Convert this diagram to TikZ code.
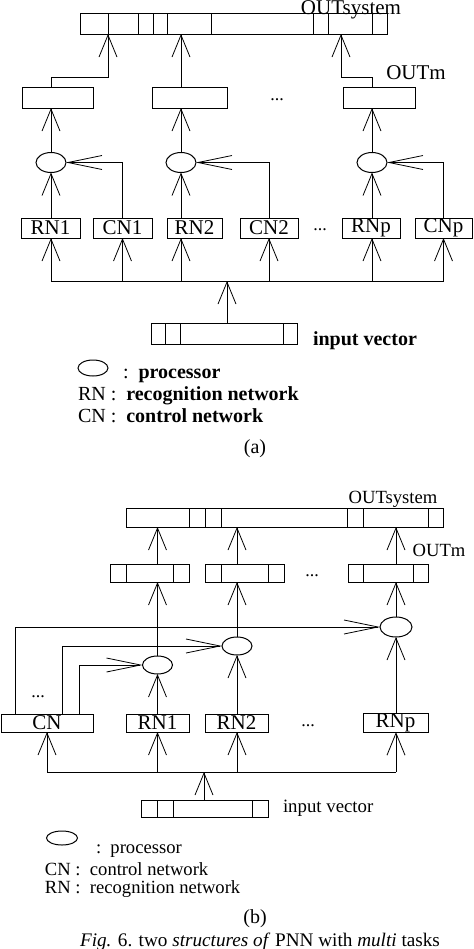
\documentclass[tikz,border=0pt]{standalone}
\usepackage{fontspec}
\setmainfont{Liberation Serif}
\usetikzlibrary{arrows.meta,shapes.geometric}
\newcommand{\myfs}[1]{\fontsize{#1}{#1}\selectfont}
\newcommand{\pbox}[7][]{\node[boxst,#1,minimum width={(#5-#3)*0.5pt},minimum height={(#6-#4)*0.5pt}] (#2) at ({(#3+#5)/2},{(#4+#6)/2}) {#7};}
\begin{document}
\begin{tikzpicture}[x=0.5pt,y=-0.5pt,
  line width=0.5pt,
  boxst/.style={draw,rectangle,inner sep=0pt,outer sep=0pt,font=\myfs{10.5}},
  proc/.style={draw,ellipse,inner sep=0pt,outer sep=0pt},
  arr/.style={-{Straight Barb[length=11pt,width=9pt,line width=0.4pt]}},
  sarr/.style={-{Straight Barb[length=17pt,width=7pt,line width=0.4pt]}},
  lbl/.style={inner sep=0pt,outer sep=0pt},
  dots/.style={inner sep=0pt,font=\myfs{9}},
]
\useasboundingbox (0,0) rectangle (474,949);

% ================= (a) =================
\pbox{barA}{80}{13}{387}{34}{}
\foreach \x in {108,138,153,167,211,313,328,372} \draw (\x,13) -- (\x,34);
\node[lbl,anchor=base,font=\myfs{10.5}] (tA) at (351,14) {OUTsystem};

\pbox{oA1}{22}{87}{93}{108}{}
\pbox{oA2}{152}{87}{227}{108}{}
\pbox{oA3}{343}{87}{415}{108}{}
\node[dots] (dA1) at (277,100) {...};
\node[lbl,anchor=base,font=\myfs{10.5}] (mA) at (416,79) {OUTm};

\node[proc,minimum width=15pt,minimum height=10pt] (eA1) at (51,162.5) {};
\node[proc,minimum width=15pt,minimum height=10pt] (eA2) at (181,162.5) {};
\node[proc,minimum width=15pt,minimum height=10pt] (eA3) at (372,162.5) {};

\coordinate (jA1) at (108,77);
\coordinate (jA3) at (341,77);
\draw[arr] (oA1.north -| eA1) |- (jA1) -- (barA.south -| jA1);
\draw[arr] (oA2.north -| eA2) -- (barA.south -| eA2);
\draw[arr] (oA3.north -| eA3) |- (jA3) -- (barA.south -| jA3);
\foreach \i in {1,2,3} \draw[arr] (eA\i.north) -- (oA\i.south -| eA\i);

\pbox{rnA1}{21}{218}{80}{238}{RN1}
\pbox{cnA1}{93}{218}{152}{238}{CN1}
\pbox{rnA2}{167}{218}{222}{238}{RN2}
\pbox{cnA2}{240}{218}{298}{238}{CN2}
\pbox{rnAp}{342}{218}{400}{238}{RNp}
\pbox{cnAp}{415}{218}{472}{238}{CNp}
\node[dots] (dA2) at (320,230) {...};

\draw[arr] (rnA1.north -| eA1) -- (eA1.south);
\draw[arr] (rnA2.north -| eA2) -- (eA2.south);
\draw[arr] (rnAp.north -| eA3) -- (eA3.south);
\draw[sarr] (cnA1.north) |- (eA1.east);
\draw[sarr] (cnA2.north) |- (eA2.east);
\draw[sarr] (cnAp.north) |- (eA3.east);

\coordinate (busA) at (227,281);
\draw (busA -| eA1) -- (busA -| cnAp);
\draw[arr] (busA -| eA1) -- (rnA1.south -| eA1);
\draw[arr] (busA -| cnA1) -- (cnA1.south);
\draw[arr] (busA -| eA2) -- (rnA2.south -| eA2);
\draw[arr] (busA -| cnA2) -- (cnA2.south);
\draw[arr] (busA -| eA3) -- (rnAp.south -| eA3);
\draw[arr] (busA -| cnAp) -- (cnAp.south);

\pbox{inA}{151}{323}{297}{344}{}
\foreach \x in {165,180,283} \draw (\x,323) -- (\x,344);
\draw[arr] (inA.north -| busA) -- (busA);
\node[lbl,anchor=base west,font=\bfseries\myfs{10}] (ivA) at (313,345) {input vector};

\node[proc,minimum width=15pt,minimum height=8pt] (lgA) at (93,368) {};
\node[lbl,anchor=base west,font=\myfs{10}] (lpA) at (123,378) {:\ \ \textbf{processor}};
\node[lbl,anchor=base west,font=\myfs{10}] (lrA) at (78,400) {RN :\ \ \textbf{recognition network}};
\node[lbl,anchor=base west,font=\myfs{10}] (lcA) at (78,422) {CN :\ \ \textbf{control network}};
\node[lbl,anchor=base,font=\myfs{10}] (capA) at (255,453) {(a)};

% ================= (b) =================
\pbox{barB}{126}{508}{443}{527}{}
\foreach \x in {189,205,221,347,363,428} \draw (\x,508) -- (\x,527);
\node[lbl,anchor=base,font=\myfs{9.3}] (tB) at (393,503) {OUTsystem};

\pbox{oB1}{110}{564}{189}{582}{}
\foreach \x in {126,173} \draw (\x,564) -- (\x,582);
\pbox{oB2}{205}{564}{284}{582}{}
\foreach \x in {221,268} \draw (\x,564) -- (\x,582);
\pbox{oB3}{348}{564}{428}{582}{}
\foreach \x in {363,413} \draw (\x,564) -- (\x,582);
\node[dots] (dB1) at (312,576) {...};
\node[lbl,anchor=base,font=\myfs{9.3}] (mB) at (439,556) {OUTm};

\node[proc,minimum width=15pt,minimum height=9pt] (eB1) at (157.5,665) {};
\node[proc,minimum width=15pt,minimum height=9pt] (eB2) at (237,646) {};
\node[proc,minimum width=16pt,minimum height=10pt] (eB3) at (396,627) {};
\foreach \i in {1,2,3} {
  \draw[arr] (eB\i.north) -- (oB\i.south -| eB\i);
  \draw[arr] (oB\i.north -| eB\i) -- (barB.south -| eB\i);
}

\pbox{cnB}{1}{714}{93}{732}{CN}
\pbox{rnB1}{126}{714}{189}{732}{RN1}
\pbox{rnB2}{205}{714}{268}{732}{RN2}
\pbox{rnBp}{363}{714}{428}{732}{RNp}
\node[dots] (dB2) at (308,726) {...};
\node[dots] (dB3) at (38,697) {...};

\draw[arr] (rnB1.north -| eB1) -- (eB1.south);
\draw[arr] (rnB2.north -| eB2) -- (eB2.south);
\draw[arr] (rnBp.north -| eB3) -- (eB3.south);

\coordinate (k1) at (15,700);
\coordinate (k2) at (62,700);
\coordinate (k3) at (79,700);
\draw[sarr] (cnB.north -| k1) |- (eB3.west);
\draw[sarr] (cnB.north -| k2) |- (eB2.west);
\draw[sarr] (cnB.north -| k3) |- (eB1.west);

\coordinate (busB) at (204,772);
\draw (busB -| cnB) -- (busB -| eB3);
\draw[arr] (busB -| cnB) -- (cnB.south);
\draw[arr] (busB -| eB1) -- (rnB1.south -| eB1);
\draw[arr] (busB -| eB2) -- (rnB2.south -| eB2);
\draw[arr] (busB -| eB3) -- (rnBp.south -| eB3);

\pbox{inB}{141}{800}{268}{817}{}
\foreach \x in {157,173,252} \draw (\x,800) -- (\x,817);
\draw[arr] (inB.north -| busB) -- (busB);
\node[lbl,anchor=base west,font=\myfs{9.4}] (ivB) at (283,812) {input vector};

\node[proc,minimum width=15.5pt,minimum height=7pt] (lgB) at (62,838) {};
\node[lbl,anchor=base west,font=\myfs{9.3}] (lpB) at (96,853) {:\ \ processor};
\node[lbl,anchor=base west,font=\myfs{9.3}] (lcB) at (45,875) {CN :\ \ control network};
\node[lbl,anchor=base west,font=\myfs{9.3}] (lrB) at (45,893) {RN :\ \ recognition network};
\node[lbl,anchor=base,font=\myfs{10}] (capB) at (255,923) {(b)};
\node[lbl,anchor=base,font=\myfs{9.6}] (fig) at (260,946) {\textit{Fig.} 6. two \textit{structures of} PNN with \textit{multi} tasks};
\end{tikzpicture}
\end{document}
